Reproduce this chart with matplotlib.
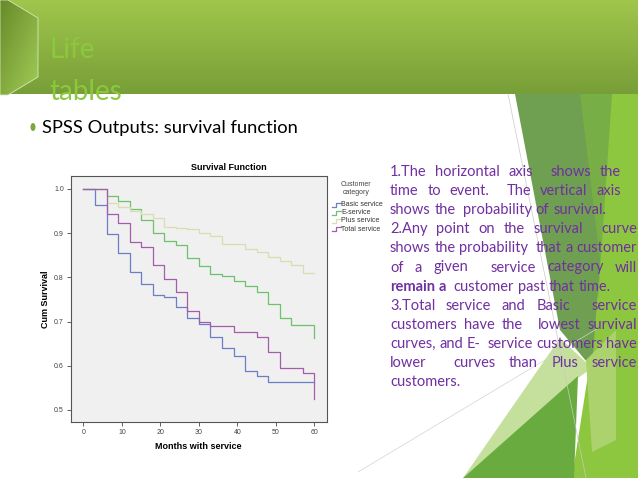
import numpy as np
import matplotlib.pyplot as plt
from matplotlib.patches import Polygon, Ellipse
from matplotlib.lines import Line2D

W, H = 638, 478

# survival estimates (value from each time on)
months = [0, 3, 6, 9, 12, 15, 18, 21, 24, 27, 30, 33, 36, 39, 42, 45, 48, 51, 54, 57, 60]
basic = [1.0, 0.963, 0.897, 0.855, 0.813, 0.785, 0.761, 0.755, 0.732, 0.707, 0.694,
         0.665, 0.640, 0.621, 0.588, 0.577, 0.564, 0.564, 0.564, 0.564, 0.564]
e_service = [1.0, 1.0, 0.983, 0.973, 0.954, 0.930, 0.901, 0.883, 0.873, 0.843, 0.825,
             0.808, 0.803, 0.792, 0.780, 0.766, 0.739, 0.709, 0.692, 0.692, 0.662]
plus = [1.0, 1.0, 0.968, 0.960, 0.950, 0.943, 0.935, 0.915, 0.912, 0.910, 0.901,
        0.893, 0.876, 0.876, 0.865, 0.857, 0.845, 0.836, 0.828, 0.809, 0.809]
total = [1.0, 1.0, 0.944, 0.923, 0.879, 0.869, 0.827, 0.797, 0.766, 0.724, 0.700,
         0.690, 0.690, 0.677, 0.677, 0.664, 0.630, 0.595, 0.595, 0.584, 0.525]

categories = ["Basic service", "E-service", "Plus service", "Total service"]
series = [basic, e_service, plus, total]
colors = ["#6b7fc8", "#6cc36c", "#dcdcb2", "#a45dac"]

x_ticks = [0, 10, 20, 30, 40, 50, 60]
y_ticks = [0.5, 0.6, 0.7, 0.8, 0.9, 1.0]

# text line, number of bold words at start, justified?, right edge
notes = [
    ("1.The horizontal axis  shows the", 0, True, 621),
    ("time to event.  The vertical axis", 0, True, 621),
    ("shows the  probability of survival.", 0, False, 0),
    ("2.Any point on the survival  curve", 0, True, 637),
    ("shows the probability  that a customer", 0, True, 637),
    ("of a given  service category will", 0, True, 637),
    ("remain a  customer past that time.", 2, False, 0),
    ("3.Total service and Basic  service", 0, True, 637),
    ("customers have the  lowest survival", 0, True, 637),
    ("curves, and E-  service customers have", 0, True, 637),
    ("lower  curves than Plus service", 0, True, 637),
    ("customers.", 0, False, 0),
]

slide_font = ["Lato", "DejaVu Sans"]
chart_font = ["Liberation Sans", "DejaVu Sans"]

fig = plt.figure(figsize=(W / 100, H / 100), dpi=100)
fig.patch.set_facecolor("white")

# slide background, pixel coordinates with y going down
bg = fig.add_axes([0, 0, 1, 1])
bg.axis("off")

# title banner
grad = np.linspace(0, 1, 100)[:, None, None]
top_c = np.array([160, 198, 76]) / 255
bot_c = np.array([120, 158, 56]) / 255
banner = top_c * (1 - grad) + bot_c * grad
banner = np.repeat(banner, 2, axis=1)
bg.imshow(banner, extent=(0, W, 94, 0), aspect="auto", zorder=1)

# hexagon on the left
hexa = Polygon([(0, 0), (8, 0), (38, 18), (38, 77), (8, 95), (0, 95)], closed=True,
               facecolor="none", edgecolor="#d8e8b8", lw=0.6, zorder=3)
bg.add_patch(hexa)
hg = np.linspace(0, 1, 60)
hx, hy = np.meshgrid(hg, hg)
t = np.clip((hx + hy) / 2, 0, 1)[..., None]
hex_img = np.array([104, 138, 42]) / 255 * (1 - t) + np.array([160, 204, 86]) / 255 * t
im = bg.imshow(hex_img, extent=(0, 38, 95, 0), aspect="auto", zorder=2)
im.set_clip_path(hexa)

bg.text(49, 58, "Life", color="#8cc83e", fontsize=20, family=slide_font, zorder=4)
bg.text(49, 100, "tables", color="#8cc83e", fontsize=20, family=slide_font, zorder=4)

# decorative facets on the right
shapes = [
    ([(578, 94), (638, 94), (638, 478), (572, 478), (590, 362)], "#8dc63f"),
    ([(578, 94), (612, 94), (598, 300)], "#78ae46"),
    ([(515, 94), (580, 94), (600, 260), (592, 368), (560, 330)], "#6f9f50"),
    ([(463, 478), (560, 338), (592, 368), (578, 378)], "#c4e09c"),
    ([(463, 478), (578, 376), (574, 478)], "#6aab40"),
    ([(586, 360), (616, 330), (616, 440), (592, 452)], "#abd26c"),
]
for pts, col in shapes:
    bg.add_patch(Polygon(pts, closed=True, facecolor=col, edgecolor="none", zorder=1.5))
bg.add_line(Line2D([508, 586], [94, 478], color="#c8c8c8", lw=0.5, zorder=1.6))
bg.add_line(Line2D([358, 600], [472, 327], color="#d4d4d4", lw=0.5, zorder=1.6))

# bullet and subtitle
bg.add_patch(Ellipse((33, 127), 5, 8, facecolor="#7aa83a", edgecolor="none", zorder=3))
bg.text(42, 133, "SPSS Outputs: survival function", color="black", fontsize=13.2,
        family=slide_font, zorder=4)

bg.set_xlim(0, W)
bg.set_ylim(H, 0)

# justified purple notes
fig.canvas.draw()
renderer = fig.canvas.get_renderer()


def word_width(word, bold):
    if word == "":
        return 0.0
    tt = bg.text(0, 0, word, fontsize=10.5, family=slide_font,
                 fontweight="bold" if bold else "normal")
    w = tt.get_window_extent(renderer).width
    tt.remove()
    return w


space_w = word_width("a a", False) - 2 * word_width("a", False)
x_left = 390
for i, (line, n_bold, justify, x_right) in enumerate(notes):
    y = 176 + 19.1 * i
    words = line.split(" ")
    widths = [word_width(w, j < n_bold) for j, w in enumerate(words)]
    if justify and len(words) > 1:
        gap = (x_right - x_left - sum(widths)) / (len(words) - 1)
    else:
        gap = space_w
    x = x_left
    for j, (w, ww) in enumerate(zip(words, widths)):
        if w:
            bg.text(x, y, w, fontsize=10.5, family=slide_font, color="#7030a0",
                    fontweight="bold" if j < n_bold else "normal", zorder=4)
        x += ww + gap

# the SPSS chart
ax = fig.add_axes([70.7 / W, 1 - 422.3 / H, 256 / W, 246.6 / H])
ax.set_facecolor("#f0f0f0")
for vals, col in zip(series, colors):
    ax.step(months, vals, where="post", color=col, lw=0.9)
ax.set_xlim(-3.3, 63.2)
ax.set_ylim(0.472, 1.03)
ax.set_xticks(x_ticks)
ax.set_yticks(y_ticks)
ax.set_yticklabels([f"{v:.1f}" for v in y_ticks])
ax.tick_params(direction="out", length=3, width=0.6, labelsize=5, colors="#444444", pad=2)
for lab in ax.get_xticklabels() + ax.get_yticklabels():
    lab.set_family(chart_font)
for sp in ax.spines.values():
    sp.set_color("#555555")
    sp.set_linewidth(0.8)
ax.set_xlabel("Months with service", fontsize=6.5, fontweight="bold", family=chart_font, labelpad=4)
ax.set_ylabel("Cum Survival", fontsize=6.5, fontweight="bold", family=chart_font, labelpad=3)
fig.text(229 / W, 1 - 168 / H, "Survival Function", ha="center", va="center", fontsize=6.5,
         fontweight="bold", family=chart_font)

# legend of the SPSS chart
bg.text(356, 184, "Customer", ha="center", va="center", fontsize=5, family=chart_font, color="#444444")
bg.text(356, 192, "category", ha="center", va="center", fontsize=5, family=chart_font, color="#444444")
for k, (name, col) in enumerate(zip(categories, colors)):
    yy = 205 + 8 * k
    bg.add_line(Line2D([332, 336, 336, 341], [yy + 1.5, yy + 1.5, yy - 2, yy - 2], color=col, lw=0.9))
    bg.text(341, yy, name, va="center", fontsize=5, family=chart_font, color="#333333")

fig.savefig("out.png", dpi=100)
